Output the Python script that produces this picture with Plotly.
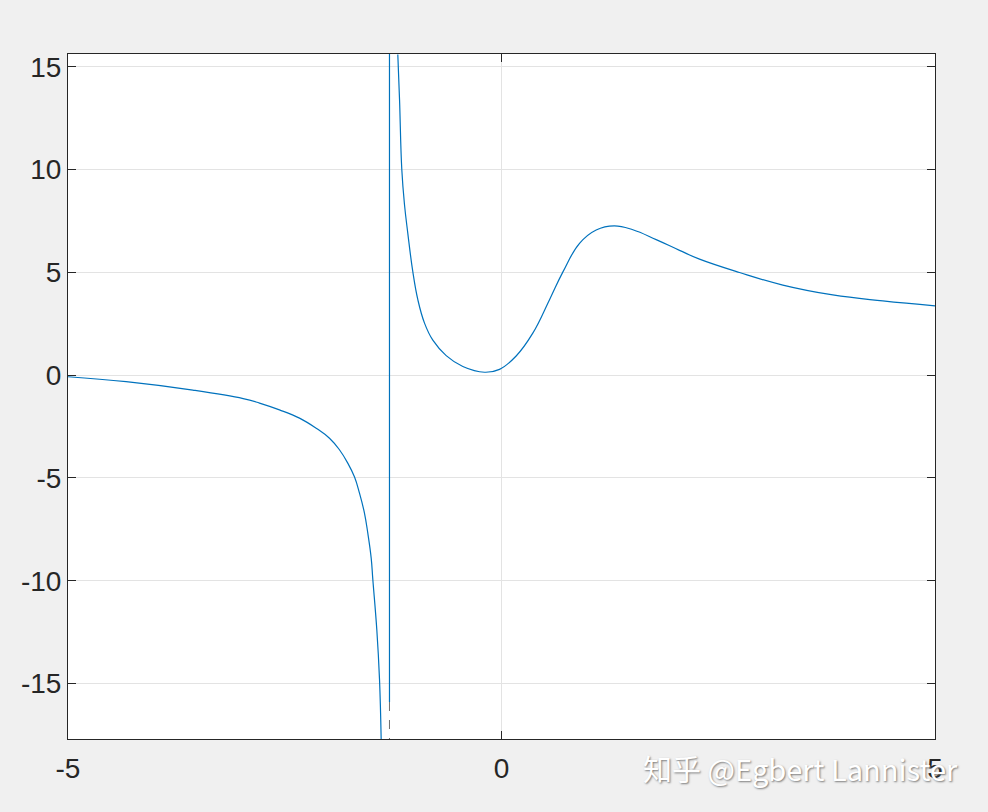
import plotly.graph_objects as go

# Left branch (x < asymptote)
left_x = [-5.0, -4.33, -3.56, -2.98, -2.791, -2.561, -2.330, -2.138, -1.984, -1.869,
          -1.773, -1.695, -1.638, -1.580, -1.542, -1.503, -1.484, -1.438, -1.407, -1.388]
left_y = [-0.08, -0.32, -0.73, -1.14, -1.36, -1.69, -2.09, -2.58, -3.07, -3.63,
          -4.28, -4.96, -5.74, -6.72, -7.69, -8.9, -9.95, -12.4, -14.8, -17.7]

# Right branch (x > asymptote)
right_x = [-1.196, -1.176, -1.150, -1.119, -1.081, -1.023, -0.965, -0.888, -0.792,
           -0.638, -0.446, -0.196, -0.023, 0.169, 0.361, 0.554, 0.707, 0.900, 1.092,
           1.30, 1.515, 1.784, 2.053, 2.284, 2.745, 3.245, 3.821, 4.398, 5.0]
right_y = [15.6, 13.4, 10.0, 8.3, 6.91, 5.03, 3.67, 2.53, 1.70,
           0.95, 0.42, 0.14, 0.28, 0.93, 2.04, 3.67, 5.01, 6.41, 7.06,
           7.26, 7.07, 6.59, 6.07, 5.64, 4.99, 4.38, 3.90, 3.61, 3.37]

# Vertical jump line at the asymptote
asym_x = -1.292
jump_y = [15.7, -15.9]
dash_y = [-15.9, -17.7]

x_ticks = [-5, 0, 5]
x_ticktext = ["-5", "0", "5"]
y_ticks = [-15, -10, -5, 0, 5, 10, 15]
y_ticktext = ["-15", "-10", "-5", "0", "5", "10", "15"]

blue = "#0072BD"

fig = go.Figure()
fig.add_trace(go.Scatter(x=left_x, y=left_y, mode="lines",
                         line=dict(color=blue, width=1.2, shape="spline", smoothing=1.2)))
fig.add_trace(go.Scatter(x=right_x, y=right_y, mode="lines",
                         line=dict(color=blue, width=1.2, shape="spline", smoothing=1.2)))
fig.add_trace(go.Scatter(x=[asym_x, asym_x], y=jump_y, mode="lines",
                         line=dict(color=blue, width=1.2)))
fig.add_trace(go.Scatter(x=[asym_x, asym_x], y=dash_y, mode="lines",
                         line=dict(color="#707070", width=1, dash="dash")))

axis_common = dict(
    showline=True, linecolor="#262626", linewidth=1, mirror="allticks",
    ticks="inside", ticklen=8, tickwidth=1, tickcolor="#262626",
    showgrid=True, gridcolor="#e3e3e3", gridwidth=1, zeroline=False,
    tickfont=dict(family="Liberation Sans, Arial, sans-serif", size=28, color="#262626"),
)

fig.update_layout(
    width=988, height=812,
    paper_bgcolor="#f0f0f0", plot_bgcolor="#ffffff",
    margin=dict(l=68, r=53, t=54, b=73),
    showlegend=False,
    xaxis=dict(range=[-5, 5], tickvals=x_ticks, ticktext=x_ticktext,
               ticklabelstandoff=4, **axis_common),
    yaxis=dict(range=[-17.7, 15.62], tickvals=y_ticks, ticktext=y_ticktext, **axis_common),
    annotations=[dict(
        text="知乎 @Egbert Lannister", xref="paper", yref="paper",
        x=1.029, y=-0.042, xanchor="right", yanchor="middle", showarrow=False,
        font=dict(family="Noto Sans CJK SC, sans-serif", size=29, color="#ffffff",
                  shadow="1px 1px 2px #7a7a7a"),
    )],
)

fig.write_html(
    "out.html",
    config={"displayModeBar": False},
    post_script="document.body.style.margin='0';document.body.style.background='#f0f0f0';",
)
